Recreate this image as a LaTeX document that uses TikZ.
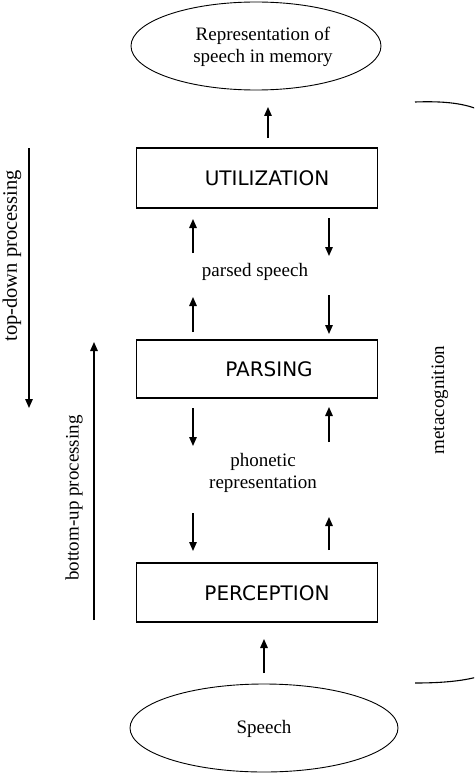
\documentclass[tikz,border=0pt]{standalone}
\usepackage{fontspec}
\setmainfont{Liberation Serif}
\newfontfamily\boxfont{DejaVu Sans}
\usetikzlibrary{shapes.geometric,arrows.meta}
\begin{document}
\begin{tikzpicture}[x=1pt,y=-1pt,
  box/.style={draw, line width=1.3pt, minimum width=241pt, minimum height=60pt, inner sep=0pt},
  boxlabel/.style={font=\boxfont\fontsize{20}{22}\selectfont, inner sep=0pt},
  oval/.style={draw, ellipse, line width=0.9pt, inner sep=0pt},
  txt/.style={font=\fontsize{19}{22}\selectfont, align=center, inner sep=0pt},
  arr/.style={-{Triangle[length=9pt,width=7.5pt]}, line width=1.4pt},
  curvy/.style={line width=1.1pt},
]
\useasboundingbox (0,0) rectangle (474,773);
\clip (0,0) rectangle (474,773);

% ellipses
\node[oval, minimum width=250pt, minimum height=88pt] (mem) at (256,46) {};
\node[txt] (memt) at (263,47) {Representation of\\speech in memory};
\node[oval, minimum width=268pt, minimum height=88pt] (speech) at (264,728) {};
\node[txt] (speecht) at (264,729) {Speech};

% boxes
\node[box] (util) at (257,178) {};
\node[boxlabel] (utilt) at (267,178) {UTILIZATION};
\node[box, minimum height=58pt] (pars) at (257,369) {};
\node[boxlabel] (parst) at (269,369) {PARSING};
\node[box, minimum height=59pt] (perc) at (257,592.5) {};
\node[boxlabel] (perct) at (267,593) {PERCEPTION};

% middle texts
\node[txt] (parsed) at (255,272) {parsed speech};
\node[txt] (phon) at (263,473) {phonetic\\representation};

% side texts
\node[txt, rotate=90, font=\fontsize{20.5}{22}\selectfont] (td) at (12,256) {top-down processing};
\node[txt, rotate=90] (bu) at (74,498) {bottom-up processing};
\node[txt, rotate=90] (meta) at (440,400) {metacognition};

% arrow coordinates
\coordinate (a1s) at (268,138); \coordinate (a1e) at (268,107);
\coordinate (u1s) at (193,253); \coordinate (u1e) at (193,219);
\coordinate (u2s) at (193,332); \coordinate (u2e) at (193,297);
\coordinate (d1s) at (329,218); \coordinate (d1e) at (329,256);
\coordinate (d2s) at (329,295); \coordinate (d2e) at (329,334);
\coordinate (d3s) at (193,408); \coordinate (d3e) at (193,446);
\coordinate (d4s) at (193,513); \coordinate (d4e) at (193,551);
\coordinate (u3s) at (329,442); \coordinate (u3e) at (329,407);
\coordinate (u4s) at (329,550); \coordinate (u4e) at (329,517);
\coordinate (a2s) at (264,673); \coordinate (a2e) at (264,639);
\coordinate (tds) at (29,148); \coordinate (tde) at (29,408);
\coordinate (bus) at (94,620); \coordinate (bue) at (94,342);

\foreach \s/\e in {a1s/a1e,u1s/u1e,u2s/u2e,d1s/d1e,d2s/d2e,d3s/d3e,d4s/d4e,u3s/u3e,u4s/u4e,a2s/a2e,tds/tde,bus/bue}
  \draw[arr] (\s) -- (\e);

% metacognition bracket (right side, mostly outside the picture)
\coordinate (mt0) at (415,102);
\coordinate (mt1) at (477,109);
\coordinate (mb0) at (415,683);
\coordinate (mb1) at (477,677);
\draw[curvy] (mt0) .. controls (442,101) and (462,103) .. (mt1);
\draw[curvy] (mb0) .. controls (442,683) and (462,681) .. (mb1);
\end{tikzpicture}
\end{document}
